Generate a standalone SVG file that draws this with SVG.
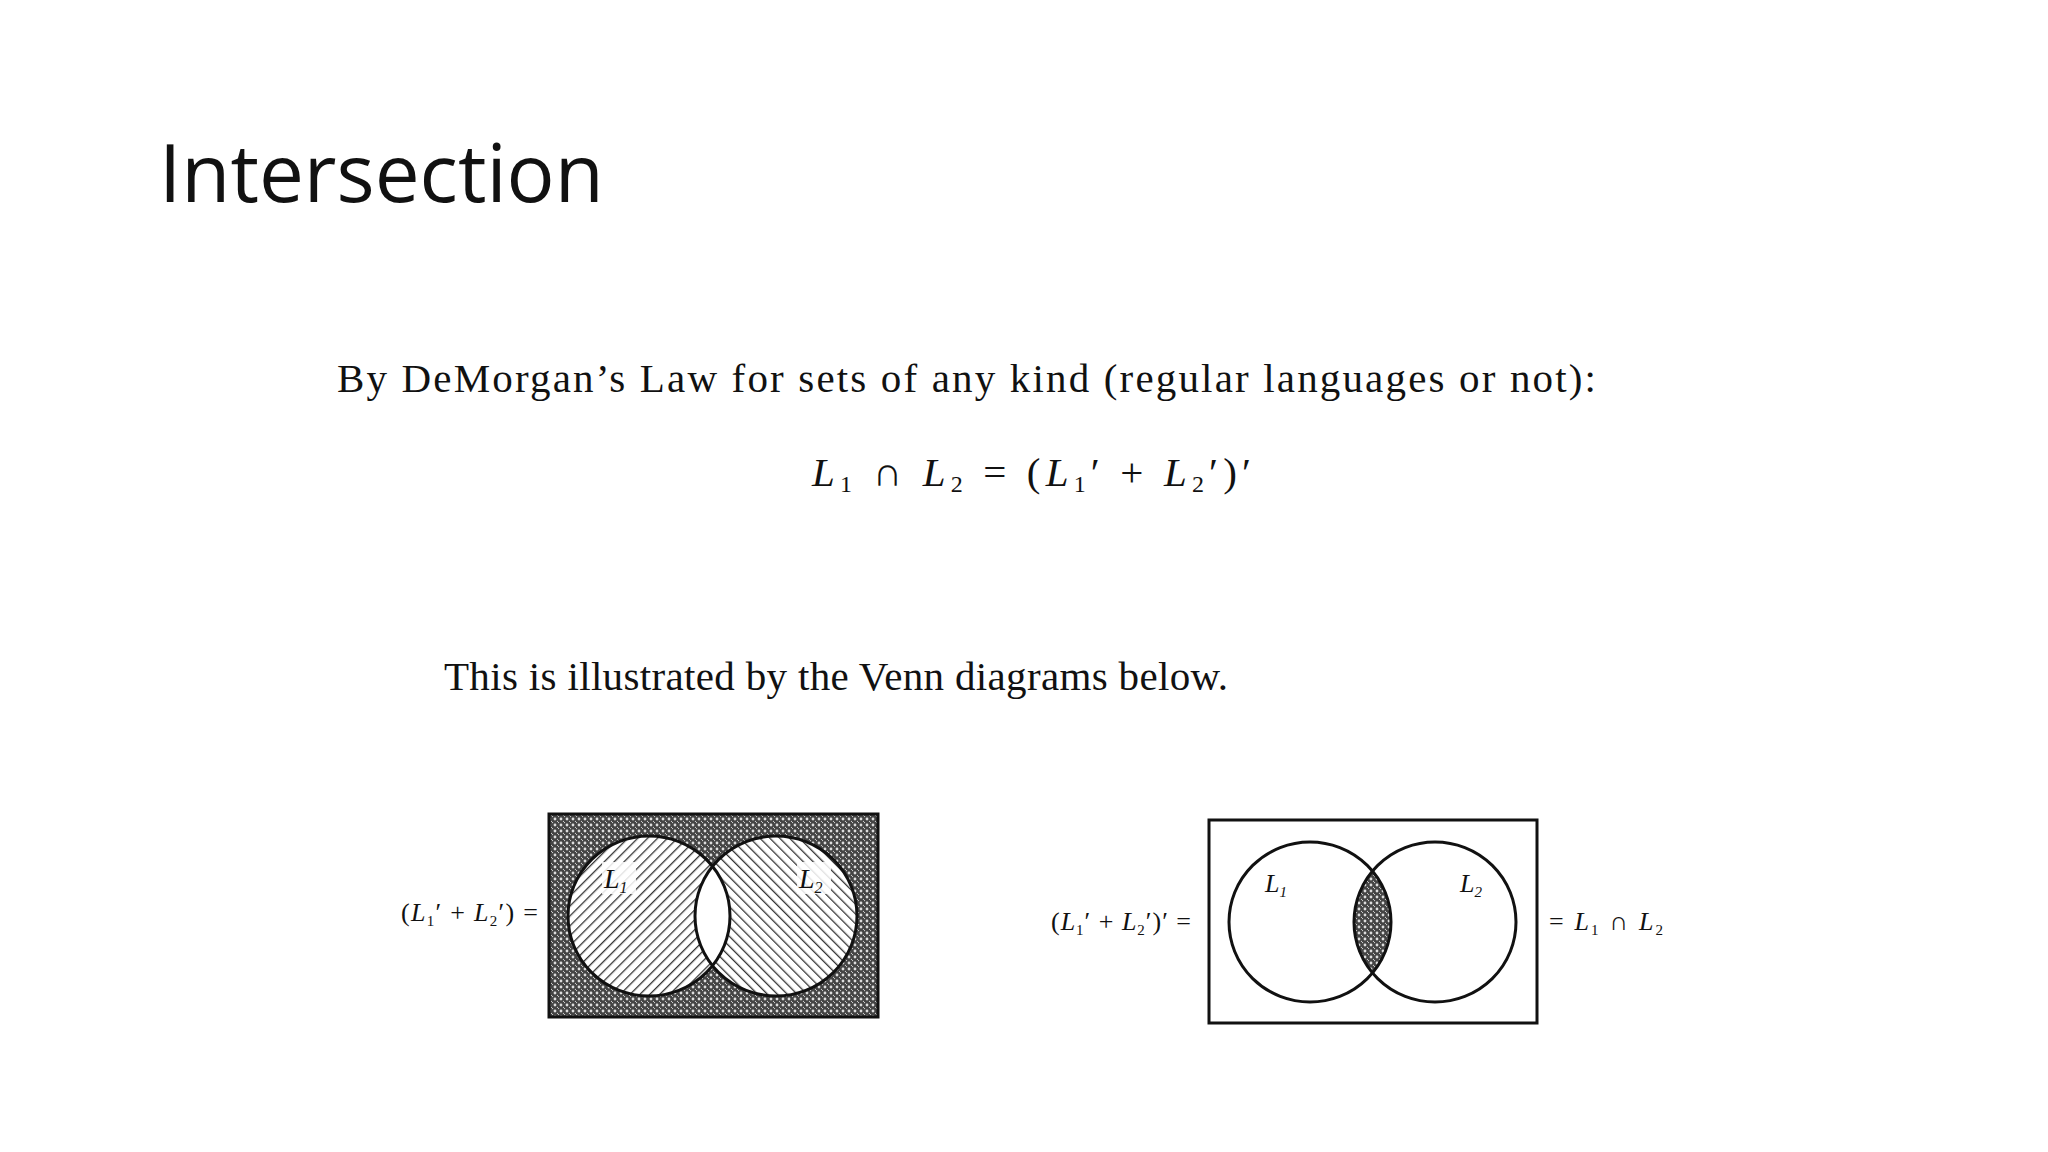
<svg xmlns="http://www.w3.org/2000/svg" width="2048" height="1152" viewBox="0 0 2048 1152">
<style>
.t{font-family:"Liberation Serif",serif;fill:#111}
.i{font-style:italic}
.c{fill:none;stroke:#111;stroke-width:3}
</style>
<defs>
<pattern id="cross" width="6" height="6" patternUnits="userSpaceOnUse">
<rect width="6" height="6" fill="#444"/><circle cx="3" cy="3" r="1.4" fill="#ddd"/><circle cx="0" cy="0" r="1.2" fill="#ccc"/><circle cx="6" cy="6" r="1.2" fill="#ccc"/>
</pattern>
<pattern id="h1" width="7" height="7" patternUnits="userSpaceOnUse" patternTransform="rotate(45)">
<rect width="7" height="7" fill="#fff"/><line x1="0" y1="0" x2="0" y2="7" stroke="#333" stroke-width="2.6"/>
</pattern>
<pattern id="h2" width="7" height="7" patternUnits="userSpaceOnUse" patternTransform="rotate(-45)">
<rect width="7" height="7" fill="#fff"/><line x1="0" y1="0" x2="0" y2="7" stroke="#333" stroke-width="2.6"/>
</pattern>
<clipPath id="cl1"><ellipse cx="649" cy="916" rx="81" ry="80"/></clipPath>
<clipPath id="cr1"><ellipse cx="1310" cy="922" rx="81" ry="80"/></clipPath>
</defs>
<rect width="2048" height="1152" fill="#fff"/>
<text x="159" y="202" font-family="'Open Sans',sans-serif" font-size="80" fill="#111">Intersection</text>
<text class="t" x="337" y="392" font-size="41" textLength="1259" lengthAdjust="spacing">By DeMorgan’s Law for sets of any kind (regular languages or not):</text>
<text class="t" x="812" y="486" font-size="41" textLength="439" lengthAdjust="spacing"><tspan class="i">L</tspan><tspan font-size="24" dy="6">1</tspan><tspan dy="-6"> ∩ </tspan><tspan class="i">L</tspan><tspan font-size="24" dy="6">2</tspan><tspan dy="-6">  =  (</tspan><tspan class="i">L</tspan><tspan font-size="24" dy="6">1</tspan><tspan dy="-6">′ + </tspan><tspan class="i">L</tspan><tspan font-size="24" dy="6">2</tspan><tspan dy="-6">′)′</tspan></text>
<text class="t" x="444" y="690" font-size="41" textLength="784" lengthAdjust="spacing">This is illustrated by the Venn diagrams below.</text>
<g id="venn-left">
<rect x="549" y="814" width="329" height="203" fill="url(#cross)" stroke="#111" stroke-width="3"/>
<ellipse cx="649" cy="916" rx="81" ry="80" fill="url(#h1)"/>
<ellipse cx="776" cy="916" rx="81" ry="80" fill="url(#h2)"/>
<ellipse cx="776" cy="916" rx="81" ry="80" fill="#fff" clip-path="url(#cl1)"/>
<ellipse class="c" cx="649" cy="916" rx="81" ry="80"/>
<ellipse class="c" cx="776" cy="916" rx="81" ry="80"/>
<rect x="602" y="862" width="34" height="32" fill="#fff" opacity="0.85"/>
<rect x="797" y="862" width="34" height="32" fill="#fff" opacity="0.85"/>
<text class="t i" x="604" y="888" font-size="28">L<tspan font-size="16" dy="5">1</tspan></text>
<text class="t i" x="799" y="888" font-size="28">L<tspan font-size="16" dy="5">2</tspan></text>
<text class="t" x="401" y="921" font-size="26" textLength="137" lengthAdjust="spacing">(<tspan class="i">L</tspan><tspan font-size="15" dy="5">1</tspan><tspan dy="-5">′ + </tspan><tspan class="i">L</tspan><tspan font-size="15" dy="5">2</tspan><tspan dy="-5">′) =</tspan></text>
</g>
<g id="venn-right">
<rect x="1209" y="820" width="328" height="203" fill="#fff" stroke="#111" stroke-width="3"/>
<ellipse cx="1435" cy="922" rx="81" ry="80" fill="url(#cross)" clip-path="url(#cr1)"/>
<ellipse class="c" cx="1310" cy="922" rx="81" ry="80"/>
<ellipse class="c" cx="1435" cy="922" rx="81" ry="80"/>
<text class="t i" x="1265" y="892" font-size="26">L<tspan font-size="15" dy="5">1</tspan></text>
<text class="t i" x="1460" y="892" font-size="26">L<tspan font-size="15" dy="5">2</tspan></text>
<text class="t" x="1051" y="930" font-size="26" textLength="140" lengthAdjust="spacing">(<tspan class="i">L</tspan><tspan font-size="15" dy="5">1</tspan><tspan dy="-5">′ + </tspan><tspan class="i">L</tspan><tspan font-size="15" dy="5">2</tspan><tspan dy="-5">′)′ =</tspan></text>
<text class="t" x="1549" y="930" font-size="26" textLength="114" lengthAdjust="spacing">= <tspan class="i">L</tspan><tspan font-size="15" dy="5">1</tspan><tspan dy="-5"> ∩ </tspan><tspan class="i">L</tspan><tspan font-size="15" dy="5">2</tspan></text>
</g>
<g id="connectors"/>
</svg>
